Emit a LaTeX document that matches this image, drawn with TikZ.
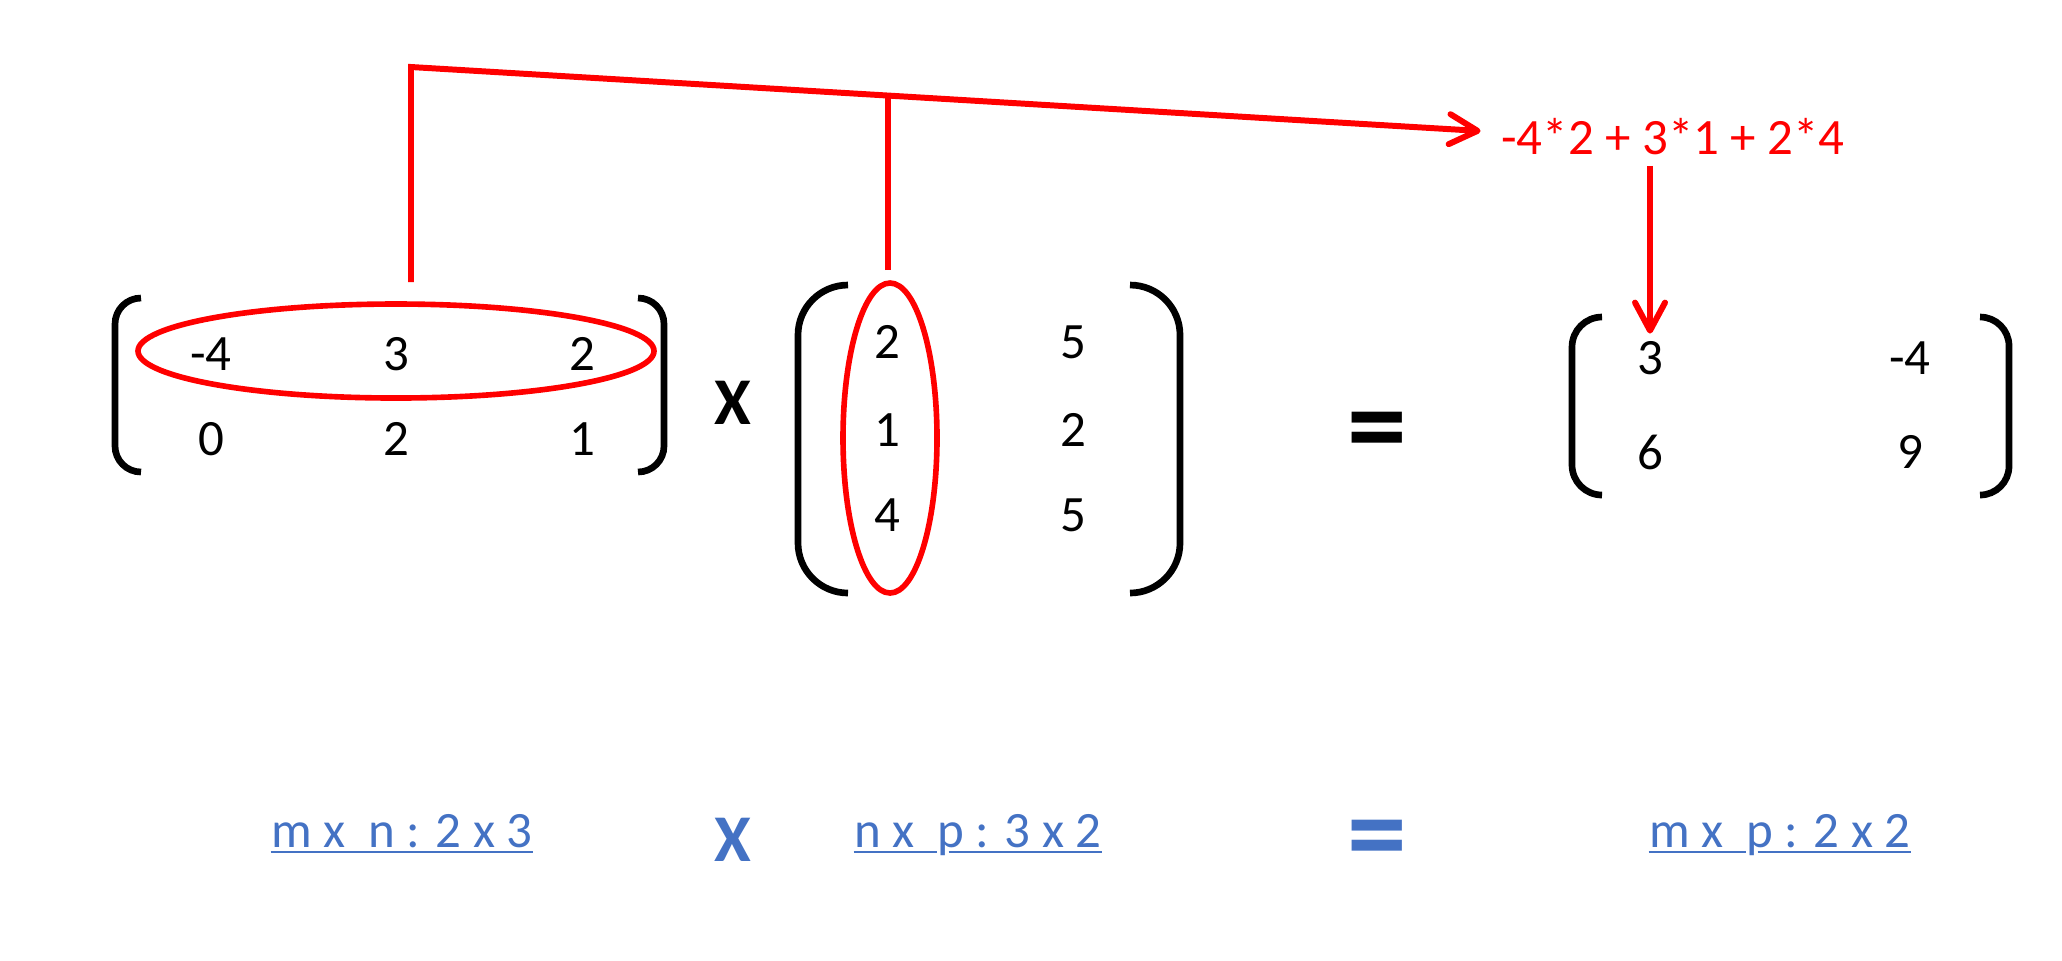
\documentclass[tikz,border=0pt]{standalone}
\usepackage{fontspec}
\setmainfont{Carlito}
\usetikzlibrary{arrows.meta,shapes.geometric}
\definecolor{hotred}{HTML}{FF0000}
\definecolor{linkblue}{HTML}{4472C4}

\begin{document}
\begin{tikzpicture}[
    cell/.style={inner sep=2pt,font=\fontsize{14.5}{17}\selectfont},
    bracket/.style={line width=1.9pt},
    ring/.style={draw=hotred,line width=1.6pt,ellipse,inner sep=0pt},
    redline/.style={draw=hotred,line width=1.7pt},
    barb/.style={-{Straight Barb[length=0.28cm,width=0.30cm,round]}},
    sizelabel/.style={inner sep=0pt,anchor=base,text=linkblue,font=\fontsize{14.5}{17}\selectfont},
    underl/.style={linkblue,line width=0.75pt},
    opsign/.style={inner sep=0pt,font=\fontsize{19}{22}\selectfont\bfseries},
    eqsign/.style={inner sep=0pt,font=\fontsize{34}{40}\selectfont\bfseries}]
  \useasboundingbox (0,0) rectangle (20.62,-9.60);

  % first matrix (2x3)
  \node[cell] (a11) at (2.11,-3.54) {-4};
  \node[cell] (a12) at (3.96,-3.54) {3};
  \node[cell] (a13) at (5.82,-3.54) {2};
  \node[cell] (a21) at (2.11,-4.39) {0};
  \node[cell] (a22) at (3.96,-4.39) {2};
  \node[cell] (a23) at (5.82,-4.39) {1};
  \draw[bracket] (1.41,-2.98) arc(90:180:0.26) -- (1.15,-4.46) arc(180:270:0.26);
  \draw[bracket] (6.38,-2.98) arc(90:0:0.26) -- (6.64,-4.46) arc(0:-90:0.26);
  \node[ring,minimum width=5.16cm,minimum height=0.94cm] (ringA) at (3.96,-3.51) {};

  \node[opsign] (times) at (7.33,-4.03) {X};

  % second matrix (3x2)
  \node[cell] (b11) at (8.87,-3.42) {2};
  \node[cell] (b12) at (10.73,-3.42) {5};
  \node[cell] (b21) at (8.87,-4.30) {1};
  \node[cell] (b22) at (10.73,-4.30) {2};
  \node[cell] (b31) at (8.87,-5.15) {4};
  \node[cell] (b32) at (10.73,-5.15) {5};
  \draw[bracket] (8.48,-2.85) arc(90:180:0.50) -- (7.98,-5.43) arc(180:270:0.50);
  \draw[bracket] (11.30,-2.85) arc(90:0:0.50) -- (11.80,-5.43) arc(0:-90:0.50);
  \node[ring,minimum width=0.94cm,minimum height=3.10cm] (ringB) at (8.90,-4.38) {};

  \node[eqsign] (equals) at (13.77,-4.39) {=};

  % result (2x2)
  \node[cell] (c11) at (16.50,-3.58) {3};
  \node[cell] (c12) at (19.10,-3.58) {-4};
  \node[cell] (c21) at (16.50,-4.52) {6};
  \node[cell] (c22) at (19.10,-4.52) {9};
  \draw[bracket] (16.02,-3.17) arc(90:180:0.30) -- (15.72,-4.65) arc(180:270:0.30);
  \draw[bracket] (19.80,-3.17) arc(90:0:0.29) -- (20.09,-4.66) arc(0:-90:0.29);

  % row times column
  \node[cell,text=hotred,inner xsep=0.2cm,inner ysep=0.1cm] (expr) at (16.73,-1.37) {-4*2 + 3*1 + 2*4};
  \coordinate (footA) at (4.11,-2.82);
  \coordinate (kneeA) at (4.11,-0.67);
  \coordinate (footB) at (8.88,-2.70);
  \coordinate (joinB) at (8.88,-0.96);
  \draw[redline,barb] (footA) -- (kneeA) -- ([yshift=0.06cm]expr.west);
  \draw[redline] (footB) -- (joinB);
  \draw[redline,barb] ([xshift=-0.23cm]expr.south) -- (c11.north);

  % sizes
  \node[sizelabel] (lblA) at (4.02,-8.47) {m x\ \ n : 2 x 3};
  \node[opsign,text=linkblue] (timesB) at (7.33,-8.40) {X};
  \node[sizelabel] (lblB) at (9.78,-8.47) {n x\ \ p : 3 x 2};
  \node[eqsign,text=linkblue] (equalsB) at (13.77,-8.47) {=};
  \node[sizelabel] (lblC) at (17.80,-8.47) {m x\ \ p : 2 x 2};
  % underlines, broken round the p
  \draw[underl] ([yshift=-0.05cm]lblA.base west) -- ([yshift=-0.05cm]lblA.base east);
  \draw[underl] ([yshift=-0.05cm]lblB.base west) -- ++(0.83,0) ++(0.12,0) -- ([yshift=-0.05cm]lblB.base east);
  \draw[underl] ([yshift=-0.05cm]lblC.base west) -- ++(0.97,0) ++(0.12,0) -- ([yshift=-0.05cm]lblC.base east);
\end{tikzpicture}
\end{document}
